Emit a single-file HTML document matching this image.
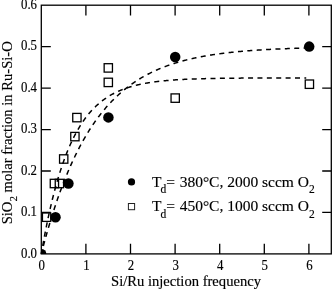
<!DOCTYPE html><html><head><meta charset="utf-8"><title>chart</title><style>html,body{margin:0;padding:0;background:#fff}svg{display:block}text{font-family:"Liberation Serif",serif;fill:#000;stroke:#000;stroke-width:0.15px}</style></head><body>
<svg width="332" height="290" viewBox="0 0 332 290">
<rect width="332" height="290" fill="#fff"/>
<rect x="41.3" y="5.2" width="290.0" height="248.70000000000002" fill="none" stroke="#000" stroke-width="1.3"/>
<path d="M85.90 253.9v-10.2M85.90 5.2v10.2M130.50 253.9v-10.2M130.50 5.2v10.2M175.10 253.9v-10.2M175.10 5.2v10.2M219.70 253.9v-10.2M219.70 5.2v10.2M264.30 253.9v-10.2M264.30 5.2v10.2M308.90 253.9v-10.2M308.90 5.2v10.2M41.3 212.45h9.5M331.3 212.45h-9.1M41.3 171.00h9.5M331.3 171.00h-9.1M41.3 129.55h9.5M331.3 129.55h-9.1M41.3 88.10h9.5M331.3 88.10h-9.1M41.3 46.65h9.5M331.3 46.65h-9.1" stroke="#000" stroke-width="1.3" fill="none"/>
<path d="M41.30 253.90 L41.75 252.16 L42.19 250.43 L42.64 248.72 L43.08 247.02 L43.53 245.34 L43.98 243.67 L44.42 242.01 L44.87 240.37 L45.31 238.74 L45.76 237.13 L46.21 235.53 L46.65 233.94 L47.10 232.37 L47.54 230.81 L47.99 229.26 L48.44 227.72 L48.88 226.20 L49.33 224.69 L49.77 223.20 L50.22 221.71 L50.67 220.24 L51.11 218.78 L51.56 217.34 L52.00 215.90 L52.45 214.48 L52.90 213.07 L53.34 211.67 L53.79 210.29 L54.23 208.91 L54.68 207.55 L55.13 206.19 L55.57 204.85 L56.02 203.52 L56.46 202.21 L56.91 200.90 L57.36 199.60 L57.80 198.32 L58.25 197.04 L58.69 195.78 L59.14 194.53 L59.59 193.28 L60.03 192.05 L60.48 190.83 L60.92 189.62 L61.37 188.42 L61.82 187.22 L62.26 186.04 L62.71 184.87 L63.15 183.71 L63.60 182.56 L64.05 181.42 L64.49 180.28 L64.94 179.16 L65.38 178.05 L65.83 176.94 L66.28 175.85 L66.72 174.76 L67.17 173.69 L67.61 172.62 L68.06 171.56 L68.51 170.51 L68.95 169.47 L69.40 168.44 L69.84 167.41 L70.29 166.40 L70.74 165.39 L71.18 164.40 L71.63 163.41 L72.07 162.42 L72.52 161.45 L72.97 160.49 L73.41 159.53 L73.86 158.58 L74.30 157.64 L74.75 156.71 L75.20 155.78 L75.64 154.87 L76.09 153.96 L76.53 153.06 L76.98 152.16 L77.43 151.27 L77.87 150.40 L78.32 149.52 L78.76 148.66 L79.21 147.80 L79.66 146.95 L80.10 146.11 L80.55 145.27 L80.99 144.44 L81.44 143.62 L81.89 142.81 L82.33 142.00 L82.78 141.20 L83.22 140.40 L83.67 139.62 L84.12 138.84 L84.56 138.06 L85.01 137.29 L85.45 136.53 L85.90 135.78 L86.35 135.03 L86.79 134.28 L87.24 133.55 L87.68 132.82 L88.13 132.09 L88.58 131.38 L89.02 130.66 L89.47 129.96 L89.91 129.26 L90.36 128.56 L90.81 127.87 L91.25 127.19 L91.70 126.52 L92.14 125.84 L92.59 125.18 L93.04 124.52 L93.48 123.86 L93.93 123.22 L94.37 122.57 L94.82 121.93 L95.27 121.30 L95.71 120.67 L96.16 120.05 L96.60 119.44 L97.05 118.82 L97.50 118.22 L97.94 117.62 L98.39 117.02 L98.83 116.43 L99.28 115.84 L99.73 115.26 L100.17 114.68 L100.62 114.11 L101.06 113.54 L101.51 112.98 L101.96 112.43 L102.40 111.87 L102.85 111.32 L103.29 110.78 L103.74 110.24 L104.19 109.71 L104.63 109.18 L105.08 108.65 L105.52 108.13 L105.97 107.61 L106.42 107.10 L106.86 106.59 L107.31 106.09 L107.75 105.59 L108.20 105.10 L108.65 104.60 L109.09 104.12 L109.54 103.63 L109.98 103.16 L110.43 102.68 L110.88 102.21 L111.32 101.74 L111.77 101.28 L112.21 100.82 L112.66 100.37 L113.11 99.91 L113.55 99.47 L114.00 99.02 L114.44 98.58 L114.89 98.15 L115.34 97.71 L115.78 97.29 L116.23 96.86 L116.67 96.44 L117.12 96.02 L117.57 95.60 L118.01 95.19 L118.46 94.79 L118.90 94.38 L119.35 93.98 L119.80 93.58 L120.24 93.19 L120.69 92.80 L121.13 92.41 L121.58 92.02 L122.03 91.64 L122.47 91.26 L122.92 90.89 L123.36 90.52 L123.81 90.15 L124.26 89.78 L124.70 89.42 L125.15 89.06 L125.59 88.71 L126.04 88.35 L126.49 88.00 L126.93 87.65 L127.38 87.31 L127.82 86.97 L128.27 86.63 L128.72 86.29 L129.16 85.96 L129.61 85.63 L130.05 85.30 L130.50 84.98 L130.95 84.66 L131.39 84.34 L131.84 84.02 L132.28 83.71 L132.73 83.39 L133.18 83.08 L133.62 82.78 L134.07 82.48 L134.51 82.17 L134.96 81.88 L135.41 81.58 L135.85 81.29 L136.30 81.00 L136.74 80.71 L137.19 80.42 L137.64 80.14 L138.08 79.86 L138.53 79.58 L138.97 79.30 L139.42 79.02 L139.87 78.75 L140.31 78.48 L140.76 78.22 L141.20 77.95 L141.65 77.69 L142.10 77.43 L142.54 77.17 L142.99 76.91 L143.43 76.66 L143.88 76.41 L144.33 76.15 L144.77 75.91 L145.22 75.66 L145.66 75.42 L146.11 75.18 L146.56 74.94 L147.00 74.70 L147.45 74.46 L147.89 74.23 L148.34 74.00 L148.79 73.77 L149.23 73.54 L149.68 73.31 L150.12 73.09 L150.57 72.87 L151.02 72.65 L151.46 72.43 L151.91 72.21 L152.35 72.00 L152.80 71.78 L153.25 71.57 L153.69 71.36 L154.14 71.16 L154.58 70.95 L155.03 70.75 L155.48 70.54 L155.92 70.34 L156.37 70.14 L156.81 69.95 L157.26 69.75 L157.71 69.56 L158.15 69.36 L158.60 69.17 L159.04 68.98 L159.49 68.80 L159.94 68.61 L160.38 68.42 L160.83 68.24 L161.27 68.06 L161.72 67.88 L162.17 67.70 L162.61 67.53 L163.06 67.35 L163.50 67.18 L163.95 67.00 L164.40 66.83 L164.84 66.66 L165.29 66.49 L165.73 66.33 L166.18 66.16 L166.63 66.00 L167.07 65.84 L167.52 65.67 L167.96 65.51 L168.41 65.36 L168.86 65.20 L169.30 65.04 L169.75 64.89 L170.19 64.74 L170.64 64.58 L171.09 64.43 L171.53 64.28 L171.98 64.14 L172.42 63.99 L172.87 63.84 L173.32 63.70 L173.76 63.55 L174.21 63.41 L174.65 63.27 L175.10 63.13 L175.55 62.99 L175.99 62.86 L176.44 62.72 L176.88 62.59 L177.33 62.45 L177.78 62.32 L178.22 62.19 L178.67 62.06 L179.11 61.93 L179.56 61.80 L180.01 61.67 L180.45 61.54 L180.90 61.42 L181.34 61.30 L181.79 61.17 L182.24 61.05 L182.68 60.93 L183.13 60.81 L183.57 60.69 L184.02 60.57 L184.47 60.46 L184.91 60.34 L185.36 60.22 L185.80 60.11 L186.25 60.00 L186.70 59.89 L187.14 59.77 L187.59 59.66 L188.03 59.55 L188.48 59.45 L188.93 59.34 L189.37 59.23 L189.82 59.13 L190.26 59.02 L190.71 58.92 L191.16 58.81 L191.60 58.71 L192.05 58.61 L192.49 58.51 L192.94 58.41 L193.39 58.31 L193.83 58.21 L194.28 58.12 L194.72 58.02 L195.17 57.92 L195.62 57.83 L196.06 57.74 L196.51 57.64 L196.95 57.55 L197.40 57.46 L197.85 57.37 L198.29 57.28 L198.74 57.19 L199.18 57.10 L199.63 57.01 L200.08 56.92 L200.52 56.84 L200.97 56.75 L201.41 56.67 L201.86 56.58 L202.31 56.50 L202.75 56.42 L203.20 56.34 L203.64 56.25 L204.09 56.17 L204.54 56.09 L204.98 56.01 L205.43 55.94 L205.87 55.86 L206.32 55.78 L206.77 55.70 L207.21 55.63 L207.66 55.55 L208.10 55.48 L208.55 55.40 L209.00 55.33 L209.44 55.26 L209.89 55.18 L210.33 55.11 L210.78 55.04 L211.23 54.97 L211.67 54.90 L212.12 54.83 L212.56 54.76 L213.01 54.69 L213.46 54.63 L213.90 54.56 L214.35 54.49 L214.79 54.43 L215.24 54.36 L215.69 54.30 L216.13 54.23 L216.58 54.17 L217.02 54.11 L217.47 54.04 L217.92 53.98 L218.36 53.92 L218.81 53.86 L219.25 53.80 L219.70 53.74 L220.15 53.68 L220.59 53.62 L221.04 53.56 L221.48 53.50 L221.93 53.45 L222.38 53.39 L222.82 53.33 L223.27 53.28 L223.71 53.22 L224.16 53.16 L224.61 53.11 L225.05 53.06 L225.50 53.00 L225.94 52.95 L226.39 52.90 L226.84 52.84 L227.28 52.79 L227.73 52.74 L228.17 52.69 L228.62 52.64 L229.07 52.59 L229.51 52.54 L229.96 52.49 L230.40 52.44 L230.85 52.39 L231.30 52.34 L231.74 52.29 L232.19 52.25 L232.63 52.20 L233.08 52.15 L233.53 52.11 L233.97 52.06 L234.42 52.02 L234.86 51.97 L235.31 51.93 L235.76 51.88 L236.20 51.84 L236.65 51.79 L237.09 51.75 L237.54 51.71 L237.99 51.66 L238.43 51.62 L238.88 51.58 L239.32 51.54 L239.77 51.50 L240.22 51.46 L240.66 51.42 L241.11 51.38 L241.55 51.34 L242.00 51.30 L242.45 51.26 L242.89 51.22 L243.34 51.18 L243.78 51.14 L244.23 51.11 L244.68 51.07 L245.12 51.03 L245.57 50.99 L246.01 50.96 L246.46 50.92 L246.91 50.89 L247.35 50.85 L247.80 50.82 L248.24 50.78 L248.69 50.75 L249.14 50.71 L249.58 50.68 L250.03 50.64 L250.47 50.61 L250.92 50.58 L251.37 50.54 L251.81 50.51 L252.26 50.48 L252.70 50.45 L253.15 50.41 L253.60 50.38 L254.04 50.35 L254.49 50.32 L254.93 50.29 L255.38 50.26 L255.83 50.23 L256.27 50.20 L256.72 50.17 L257.16 50.14 L257.61 50.11 L258.06 50.08 L258.50 50.05 L258.95 50.02 L259.39 49.99 L259.84 49.97 L260.29 49.94 L260.73 49.91 L261.18 49.88 L261.62 49.86 L262.07 49.83 L262.52 49.80 L262.96 49.78 L263.41 49.75 L263.85 49.72 L264.30 49.70 L264.75 49.67 L265.19 49.65 L265.64 49.62 L266.08 49.60 L266.53 49.57 L266.98 49.55 L267.42 49.52 L267.87 49.50 L268.31 49.48 L268.76 49.45 L269.21 49.43 L269.65 49.40 L270.10 49.38 L270.54 49.36 L270.99 49.34 L271.44 49.31 L271.88 49.29 L272.33 49.27 L272.77 49.25 L273.22 49.22 L273.67 49.20 L274.11 49.18 L274.56 49.16 L275.00 49.14 L275.45 49.12 L275.90 49.10 L276.34 49.08 L276.79 49.06 L277.23 49.04 L277.68 49.02 L278.13 49.00 L278.57 48.98 L279.02 48.96 L279.46 48.94 L279.91 48.92 L280.36 48.90 L280.80 48.88 L281.25 48.86 L281.69 48.84 L282.14 48.82 L282.59 48.81 L283.03 48.79 L283.48 48.77 L283.92 48.75 L284.37 48.74 L284.82 48.72 L285.26 48.70 L285.71 48.68 L286.15 48.67 L286.60 48.65 L287.05 48.63 L287.49 48.62 L287.94 48.60 L288.38 48.58 L288.83 48.57 L289.28 48.55 L289.72 48.53 L290.17 48.52 L290.61 48.50 L291.06 48.49 L291.51 48.47 L291.95 48.46 L292.40 48.44 L292.84 48.43 L293.29 48.41 L293.74 48.40 L294.18 48.38 L294.63 48.37 L295.07 48.35 L295.52 48.34 L295.97 48.32 L296.41 48.31 L296.86 48.30 L297.30 48.28 L297.75 48.27 L298.20 48.26 L298.64 48.24 L299.09 48.23 L299.53 48.21 L299.98 48.20 L300.43 48.19 L300.87 48.18 L301.32 48.16 L301.76 48.15 L302.21 48.14 L302.66 48.13 L303.10 48.11 L303.55 48.10 L303.99 48.09 L304.44 48.08 L304.89 48.06 L305.33 48.05 L305.78 48.04 L306.22 48.03 L306.67 48.02 L307.12 48.01 L307.56 47.99 L308.01 47.98 L308.45 47.97 L308.90 47.96" stroke="#000" stroke-width="1.5" fill="none" stroke-dasharray="5.0 4.39" stroke-dashoffset="1.19"/>
<path d="M41.30 253.90 L41.74 251.32 L42.18 248.78 L42.62 246.27 L43.07 243.80 L43.51 241.37 L43.95 238.97 L44.39 236.61 L44.83 234.28 L45.27 231.98 L45.72 229.72 L46.16 227.50 L46.60 225.30 L47.04 223.14 L47.48 221.01 L47.92 218.91 L48.36 216.84 L48.81 214.81 L49.25 212.80 L49.69 210.82 L50.13 208.87 L50.57 206.95 L51.01 205.06 L51.46 203.19 L51.90 201.35 L52.34 199.54 L52.78 197.76 L53.22 196.00 L53.66 194.27 L54.10 192.56 L54.55 190.88 L54.99 189.22 L55.43 187.59 L55.87 185.98 L56.31 184.40 L56.75 182.83 L57.20 181.30 L57.64 179.78 L58.08 178.28 L58.52 176.81 L58.96 175.36 L59.40 173.93 L59.84 172.52 L60.29 171.14 L60.73 169.77 L61.17 168.42 L61.61 167.09 L62.05 165.78 L62.49 164.50 L62.94 163.23 L63.38 161.97 L63.82 160.74 L64.26 159.53 L64.70 158.33 L65.14 157.15 L65.58 155.99 L66.03 154.84 L66.47 153.71 L66.91 152.60 L67.35 151.51 L67.79 150.43 L68.23 149.36 L68.68 148.31 L69.12 147.28 L69.56 146.26 L70.00 145.26 L70.44 144.27 L70.88 143.30 L71.32 142.34 L71.77 141.40 L72.21 140.46 L72.65 139.55 L73.09 138.64 L73.53 137.75 L73.97 136.87 L74.42 136.01 L74.86 135.16 L75.30 134.32 L75.74 133.49 L76.18 132.67 L76.62 131.87 L77.06 131.08 L77.51 130.30 L77.95 129.53 L78.39 128.77 L78.83 128.03 L79.27 127.29 L79.71 126.57 L80.16 125.85 L80.60 125.15 L81.04 124.46 L81.48 123.77 L81.92 123.10 L82.36 122.44 L82.80 121.79 L83.25 121.14 L83.69 120.51 L84.13 119.88 L84.57 119.27 L85.01 118.66 L85.45 118.06 L85.90 117.47 L86.34 116.89 L86.78 116.32 L87.22 115.76 L87.66 115.20 L88.10 114.66 L88.54 114.12 L88.99 113.59 L89.43 113.06 L89.87 112.55 L90.31 112.04 L90.75 111.54 L91.19 111.04 L91.64 110.56 L92.08 110.08 L92.52 109.61 L92.96 109.14 L93.40 108.68 L93.84 108.23 L94.28 107.79 L94.73 107.35 L95.17 106.92 L95.61 106.49 L96.05 106.07 L96.49 105.66 L96.93 105.25 L97.38 104.85 L97.82 104.46 L98.26 104.07 L98.70 103.68 L99.14 103.30 L99.58 102.93 L100.02 102.56 L100.47 102.20 L100.91 101.85 L101.35 101.50 L101.79 101.15 L102.23 100.81 L102.67 100.47 L103.12 100.14 L103.56 99.82 L104.00 99.49 L104.44 99.18 L104.88 98.87 L105.32 98.56 L105.76 98.25 L106.21 97.96 L106.65 97.66 L107.09 97.37 L107.53 97.09 L107.97 96.81 L108.41 96.53 L108.86 96.25 L109.30 95.99 L109.74 95.72 L110.18 95.46 L110.62 95.20 L111.06 94.95 L111.50 94.70 L111.95 94.45 L112.39 94.21 L112.83 93.97 L113.27 93.73 L113.71 93.50 L114.15 93.27 L114.60 93.05 L115.04 92.83 L115.48 92.61 L115.92 92.39 L116.36 92.18 L116.80 91.97 L117.24 91.76 L117.69 91.56 L118.13 91.36 L118.57 91.16 L119.01 90.97 L119.45 90.78 L119.89 90.59 L120.34 90.40 L120.78 90.22 L121.22 90.04 L121.66 89.86 L122.10 89.68 L122.54 89.51 L122.98 89.34 L123.43 89.17 L123.87 89.01 L124.31 88.84 L124.75 88.68 L125.19 88.53 L125.63 88.37 L126.08 88.22 L126.52 88.07 L126.96 87.92 L127.40 87.77 L127.84 87.62 L128.28 87.48 L128.72 87.34 L129.17 87.20 L129.61 87.07 L130.05 86.93 L130.49 86.80 L130.93 86.67 L131.37 86.54 L131.82 86.41 L132.26 86.29 L132.70 86.17 L133.14 86.05 L133.58 85.93 L134.02 85.81 L134.46 85.69 L134.91 85.58 L135.35 85.47 L135.79 85.35 L136.23 85.25 L136.67 85.14 L137.11 85.03 L137.56 84.93 L138.00 84.82 L138.44 84.72 L138.88 84.62 L139.32 84.52 L139.76 84.43 L140.20 84.33 L140.65 84.24 L141.09 84.14 L141.53 84.05 L141.97 83.96 L142.41 83.87 L142.85 83.79 L143.30 83.70 L143.74 83.61 L144.18 83.53 L144.62 83.45 L145.06 83.37 L145.50 83.29 L145.94 83.21 L146.39 83.13 L146.83 83.05 L147.27 82.98 L147.71 82.90 L148.15 82.83 L148.59 82.76 L149.04 82.69 L149.48 82.62 L149.92 82.55 L150.36 82.48 L150.80 82.41 L151.24 82.35 L151.69 82.28 L152.13 82.22 L152.57 82.15 L153.01 82.09 L153.45 82.03 L153.89 81.97 L154.33 81.91 L154.78 81.85 L155.22 81.79 L155.66 81.74 L156.10 81.68 L156.54 81.62 L156.98 81.57 L157.43 81.52 L157.87 81.46 L158.31 81.41 L158.75 81.36 L159.19 81.31 L159.63 81.26 L160.07 81.21 L160.52 81.16 L160.96 81.11 L161.40 81.07 L161.84 81.02 L162.28 80.97 L162.72 80.93 L163.17 80.88 L163.61 80.84 L164.05 80.80 L164.49 80.76 L164.93 80.71 L165.37 80.67 L165.81 80.63 L166.26 80.59 L166.70 80.55 L167.14 80.51 L167.58 80.47 L168.02 80.44 L168.46 80.40 L168.91 80.36 L169.35 80.33 L169.79 80.29 L170.23 80.26 L170.67 80.22 L171.11 80.19 L171.55 80.15 L172.00 80.12 L172.44 80.09 L172.88 80.06 L173.32 80.03 L173.76 79.99 L174.20 79.96 L174.65 79.93 L175.09 79.90 L175.53 79.87 L175.97 79.85 L176.41 79.82 L176.85 79.79 L177.29 79.76 L177.74 79.73 L178.18 79.71 L178.62 79.68 L179.06 79.65 L179.50 79.63 L179.94 79.60 L180.39 79.58 L180.83 79.55 L181.27 79.53 L181.71 79.51 L182.15 79.48 L182.59 79.46 L183.03 79.44 L183.48 79.41 L183.92 79.39 L184.36 79.37 L184.80 79.35 L185.24 79.33 L185.68 79.31 L186.13 79.29 L186.57 79.27 L187.01 79.25 L187.45 79.23 L187.89 79.21 L188.33 79.19 L188.77 79.17 L189.22 79.15 L189.66 79.13 L190.10 79.11 L190.54 79.10 L190.98 79.08 L191.42 79.06 L191.87 79.04 L192.31 79.03 L192.75 79.01 L193.19 78.99 L193.63 78.98 L194.07 78.96 L194.51 78.95 L194.96 78.93 L195.40 78.92 L195.84 78.90 L196.28 78.89 L196.72 78.87 L197.16 78.86 L197.61 78.84 L198.05 78.83 L198.49 78.82 L198.93 78.80 L199.37 78.79 L199.81 78.78 L200.25 78.76 L200.70 78.75 L201.14 78.74 L201.58 78.73 L202.02 78.72 L202.46 78.70 L202.90 78.69 L203.35 78.68 L203.79 78.67 L204.23 78.66 L204.67 78.65 L205.11 78.64 L205.55 78.62 L205.99 78.61 L206.44 78.60 L206.88 78.59 L207.32 78.58 L207.76 78.57 L208.20 78.56 L208.64 78.55 L209.09 78.54 L209.53 78.54 L209.97 78.53 L210.41 78.52 L210.85 78.51 L211.29 78.50 L211.73 78.49 L212.18 78.48 L212.62 78.47 L213.06 78.46 L213.50 78.46 L213.94 78.45 L214.38 78.44 L214.83 78.43 L215.27 78.42 L215.71 78.42 L216.15 78.41 L216.59 78.40 L217.03 78.39 L217.47 78.39 L217.92 78.38 L218.36 78.37 L218.80 78.37 L219.24 78.36 L219.68 78.35 L220.12 78.35 L220.57 78.34 L221.01 78.33 L221.45 78.33 L221.89 78.32 L222.33 78.31 L222.77 78.31 L223.21 78.30 L223.66 78.30 L224.10 78.29 L224.54 78.29 L224.98 78.28 L225.42 78.27 L225.86 78.27 L226.31 78.26 L226.75 78.26 L227.19 78.25 L227.63 78.25 L228.07 78.24 L228.51 78.24 L228.95 78.23 L229.40 78.23 L229.84 78.22 L230.28 78.22 L230.72 78.21 L231.16 78.21 L231.60 78.21 L232.05 78.20 L232.49 78.20 L232.93 78.19 L233.37 78.19 L233.81 78.18 L234.25 78.18 L234.69 78.18 L235.14 78.17 L235.58 78.17 L236.02 78.16 L236.46 78.16 L236.90 78.16 L237.34 78.15 L237.79 78.15 L238.23 78.15 L238.67 78.14 L239.11 78.14 L239.55 78.13 L239.99 78.13 L240.43 78.13 L240.88 78.12 L241.32 78.12 L241.76 78.12 L242.20 78.11 L242.64 78.11 L243.08 78.11 L243.53 78.11 L243.97 78.10 L244.41 78.10 L244.85 78.10 L245.29 78.09 L245.73 78.09 L246.17 78.09 L246.62 78.09 L247.06 78.08 L247.50 78.08 L247.94 78.08 L248.38 78.08 L248.82 78.07 L249.27 78.07 L249.71 78.07 L250.15 78.07 L250.59 78.06 L251.03 78.06 L251.47 78.06 L251.91 78.06 L252.36 78.05 L252.80 78.05 L253.24 78.05 L253.68 78.05 L254.12 78.05 L254.56 78.04 L255.01 78.04 L255.45 78.04 L255.89 78.04 L256.33 78.04 L256.77 78.03 L257.21 78.03 L257.65 78.03 L258.10 78.03 L258.54 78.03 L258.98 78.02 L259.42 78.02 L259.86 78.02 L260.30 78.02 L260.75 78.02 L261.19 78.02 L261.63 78.01 L262.07 78.01 L262.51 78.01 L262.95 78.01 L263.39 78.01 L263.84 78.01 L264.28 78.00 L264.72 78.00 L265.16 78.00 L265.60 78.00 L266.04 78.00 L266.49 78.00 L266.93 78.00 L267.37 77.99 L267.81 77.99 L268.25 77.99 L268.69 77.99 L269.13 77.99 L269.58 77.99 L270.02 77.99 L270.46 77.99 L270.90 77.98 L271.34 77.98 L271.78 77.98 L272.23 77.98 L272.67 77.98 L273.11 77.98 L273.55 77.98 L273.99 77.98 L274.43 77.98 L274.87 77.97 L275.32 77.97 L275.76 77.97 L276.20 77.97 L276.64 77.97 L277.08 77.97 L277.52 77.97 L277.97 77.97 L278.41 77.97 L278.85 77.97 L279.29 77.96 L279.73 77.96 L280.17 77.96 L280.61 77.96 L281.06 77.96 L281.50 77.96 L281.94 77.96 L282.38 77.96 L282.82 77.96 L283.26 77.96 L283.71 77.96 L284.15 77.96 L284.59 77.95 L285.03 77.95 L285.47 77.95 L285.91 77.95 L286.35 77.95 L286.80 77.95 L287.24 77.95 L287.68 77.95 L288.12 77.95 L288.56 77.95 L289.00 77.95 L289.45 77.95 L289.89 77.95 L290.33 77.95 L290.77 77.94 L291.21 77.94 L291.65 77.94 L292.09 77.94 L292.54 77.94 L292.98 77.94 L293.42 77.94 L293.86 77.94 L294.30 77.94 L294.74 77.94 L295.19 77.94 L295.63 77.94 L296.07 77.94 L296.51 77.94 L296.95 77.94 L297.39 77.94 L297.83 77.94 L298.28 77.94 L298.72 77.94 L299.16 77.93 L299.60 77.93 L300.04 77.93 L300.48 77.93 L300.93 77.93 L301.37 77.93 L301.81 77.93 L302.25 77.93 L302.69 77.93 L303.13 77.93 L303.57 77.93 L304.02 77.93 L304.46 77.93 L304.90 77.93 L305.34 77.93 L305.78 77.93 L306.22 77.93" stroke="#000" stroke-width="1.5" fill="none" stroke-dasharray="5.0 4.39" stroke-dashoffset="1.19"/>
<rect x="42.45" y="213.00" width="8.3" height="8.4" fill="#fff" fill-opacity="0" stroke="#000" stroke-width="1.3"/>
<rect x="50.25" y="179.30" width="8.3" height="8.4" fill="#fff" fill-opacity="0" stroke="#000" stroke-width="1.3"/>
<rect x="55.25" y="179.30" width="8.3" height="8.4" fill="#fff" fill-opacity="0" stroke="#000" stroke-width="1.3"/>
<rect x="59.55" y="154.80" width="8.3" height="8.4" fill="#fff" fill-opacity="0" stroke="#000" stroke-width="1.3"/>
<rect x="70.75" y="132.40" width="8.3" height="8.4" fill="#fff" fill-opacity="0" stroke="#000" stroke-width="1.3"/>
<rect x="72.75" y="113.40" width="8.3" height="8.4" fill="#fff" fill-opacity="0" stroke="#000" stroke-width="1.3"/>
<rect x="104.15" y="78.20" width="8.3" height="8.4" fill="#fff" fill-opacity="0" stroke="#000" stroke-width="1.3"/>
<rect x="104.15" y="63.70" width="8.3" height="8.4" fill="#fff" fill-opacity="0" stroke="#000" stroke-width="1.3"/>
<rect x="171.05" y="93.90" width="8.3" height="8.4" fill="#fff" fill-opacity="0" stroke="#000" stroke-width="1.3"/>
<rect x="305.25" y="80.00" width="8.3" height="8.4" fill="#fff" fill-opacity="0" stroke="#000" stroke-width="1.3"/>
<clipPath id="cp"><rect x="41.3" y="5.2" width="290.0" height="248.70000000000002"/></clipPath>
<circle cx="41.3" cy="253.9" r="5" fill="#000" clip-path="url(#cp)"/>
<circle cx="55.5" cy="217.2" r="5.25" fill="#000"/>
<circle cx="68.4" cy="183.5" r="5.25" fill="#000"/>
<circle cx="108.4" cy="117.4" r="5.25" fill="#000"/>
<circle cx="175.2" cy="57" r="5.25" fill="#000"/>
<circle cx="309.2" cy="46.6" r="5.25" fill="#000"/>
<text transform="translate(41.80,270) scale(0.95,1.03)" font-size="13.5" text-anchor="middle">0</text>
<text transform="translate(86.40,270) scale(0.95,1.03)" font-size="13.5" text-anchor="middle">1</text>
<text transform="translate(131.00,270) scale(0.95,1.03)" font-size="13.5" text-anchor="middle">2</text>
<text transform="translate(175.60,270) scale(0.95,1.03)" font-size="13.5" text-anchor="middle">3</text>
<text transform="translate(220.20,270) scale(0.95,1.03)" font-size="13.5" text-anchor="middle">4</text>
<text transform="translate(264.80,270) scale(0.95,1.03)" font-size="13.5" text-anchor="middle">5</text>
<text transform="translate(309.40,270) scale(0.95,1.03)" font-size="13.5" text-anchor="middle">6</text>
<text transform="translate(37,257.50) scale(0.95,1.03)" font-size="13.5" text-anchor="end">0.0</text>
<text transform="translate(37,216.05) scale(0.95,1.03)" font-size="13.5" text-anchor="end">0.1</text>
<text transform="translate(37,174.60) scale(0.95,1.03)" font-size="13.5" text-anchor="end">0.2</text>
<text transform="translate(37,133.15) scale(0.95,1.03)" font-size="13.5" text-anchor="end">0.3</text>
<text transform="translate(37,91.70) scale(0.95,1.03)" font-size="13.5" text-anchor="end">0.4</text>
<text transform="translate(37,50.25) scale(0.95,1.03)" font-size="13.5" text-anchor="end">0.5</text>
<text transform="translate(37,8.80) scale(0.95,1.03)" font-size="13.5" text-anchor="end">0.6</text>
<text x="186" y="286.1" font-size="14.6" text-anchor="middle">Si/Ru injection frequency</text>
<text transform="translate(11.5,132.8) rotate(-90)" font-size="14.6" stroke-width="0" text-anchor="middle">SiO<tspan font-size="11" dy="5">2</tspan><tspan dy="-5"> molar fraction in Ru-Si-O</tspan></text>
<circle cx="131.5" cy="181.9" r="3.6" fill="#000"/>
<rect x="128.4" y="203.5" width="6.2" height="6.2" fill="none" stroke="#222" stroke-width="1"/>
<text x="152" y="186.5" font-size="15.5">T<tspan font-size="11.5" dy="6.6" dx="-1">d</tspan><tspan dy="-6.6">=</tspan><tspan dx="0.8"> 380°C, 2000 sccm O</tspan><tspan font-size="11.5" dy="6.6">2</tspan></text>
<text x="152" y="211.4" font-size="15.5">T<tspan font-size="11.5" dy="6.6" dx="-1">d</tspan><tspan dy="-6.6">=</tspan><tspan dx="0.8"> 450°C, 1000 sccm O</tspan><tspan font-size="11.5" dy="6.6">2</tspan></text>
</svg></body></html>
